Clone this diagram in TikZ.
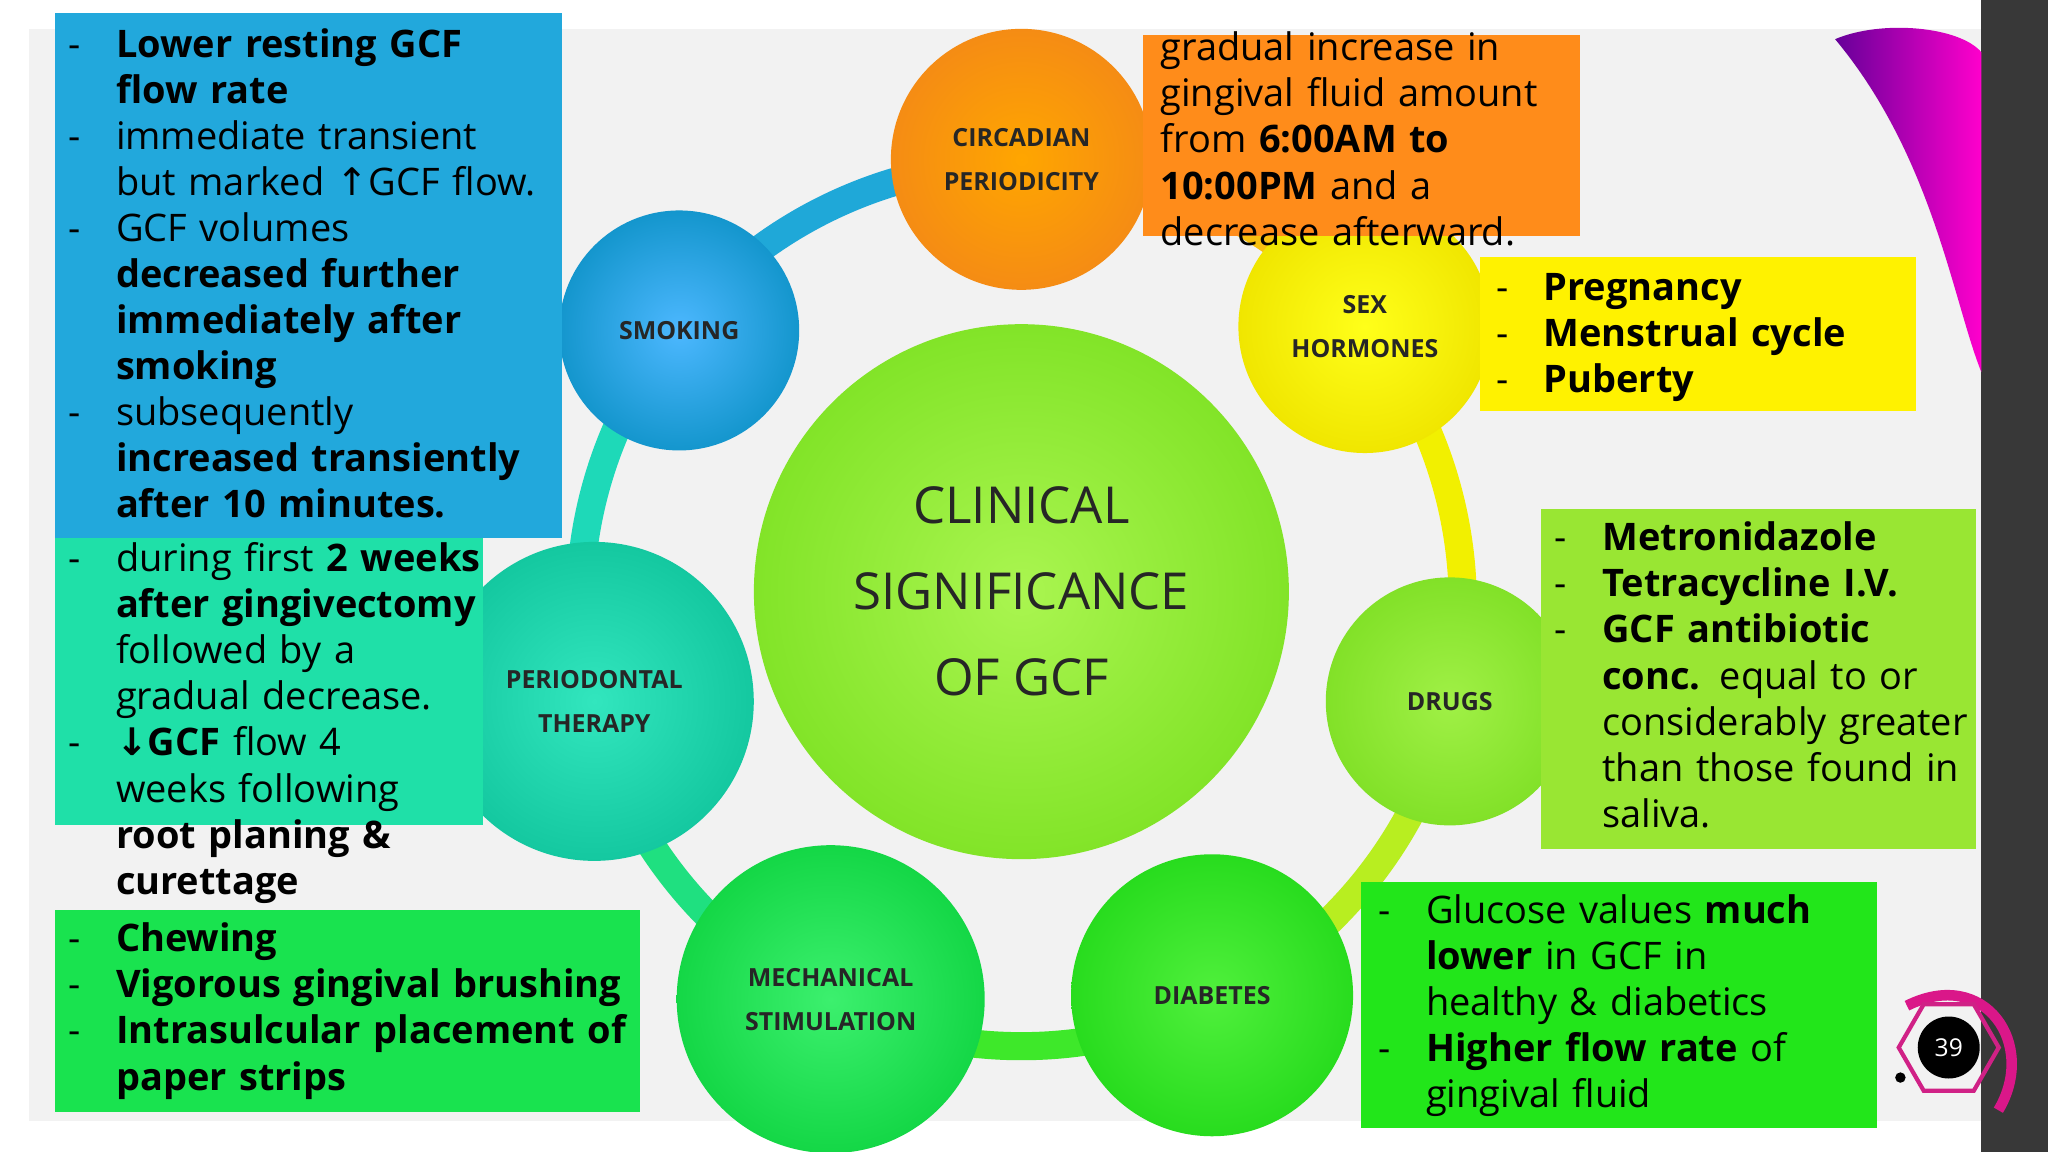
\documentclass[tikz,border=0pt]{standalone}
\usepackage{fontspec}
\setmainfont{Open Sans}
\newfontfamily\symf{DejaVu Sans}
\usetikzlibrary{shapes.geometric}
\newcommand\li{\par\hangindent=1.25em\hangafter=1\noindent\makebox[1.25em][l]{-}}
\newcommand\upar{{\symf ↑}}
\newcommand\dnar{{\symf ↓}}
\begin{document}
\begin{tikzpicture}[x=0.01306cm,y=-0.01306cm,
  box/.style={anchor=north west,inner sep=0pt,text width=#1,align=left,font=\fontsize{10.8}{13.1}\selectfont,execute at begin node={\hyphenpenalty=10000\exhyphenpenalty=10000}},
  ball/.style={circle,inner sep=0pt,minimum size=#1,font=\fontsize{7.1}{12.5}\selectfont\bfseries,align=center,text=black!85},
  ring/.style={line width=8pt}]
\useasboundingbox (0,0) rectangle (1568,882);
\fill[white] (0,0) rectangle (1568,882);
\fill[black!5] (22,22) rectangle (1517,858);
\fill[black!78] (1517,0) rectangle (1568,882);
% decoration top right
\shade[left color=violet!80!blue,right color=magenta!80!red] (1405,30) .. controls (1440,15) and (1500,20) .. (1517,40) -- (1517,285) .. controls (1495,230) and (1480,120) .. (1405,30) -- cycle;
% ring
\coordinate (c) at (782,463);
\draw[ring,color={rgb,255:red,248;green,192;blue,16}] (c) ++(-90:338) arc[start angle=90,end angle=39,radius=4.414cm];
\draw[ring,color={rgb,255:red,242;green,240;blue,0}] (c) ++(-39:338) arc[start angle=39,end angle=-13,radius=4.414cm];
\draw[ring,color={rgb,255:red,184;green,238;blue,32}] (c) ++(13:338) arc[start angle=-13,end angle=-64,radius=4.414cm];
\draw[ring,color={rgb,255:red,62;green,232;blue,42}] (c) ++(64:338) arc[start angle=-64,end angle=-116,radius=4.414cm];
\draw[ring,color={rgb,255:red,31;green,224;blue,128}] (c) ++(116:338) arc[start angle=-116,end angle=-167,radius=4.414cm];
\draw[ring,color={rgb,255:red,30;green,217;blue,184}] (c) ++(167:338) arc[start angle=-167,end angle=-219,radius=4.414cm];
\draw[ring,color={rgb,255:red,31;green,168;blue,216}] (c) ++(-141:338) arc[start angle=141,end angle=90,radius=4.414cm];
% circles
\node[ball=5.35cm,inner color={rgb,255:red,170;green,245;blue,80},outer color={rgb,255:red,130;green,228;blue,40},font=\fontsize{14.5}{24.5}\selectfont,text=black!85] (center) at (782,453) {CLINICAL\\SIGNIFICANCE\\OF GCF};
\node[ball=2.61cm,inner color=orange!70!yellow,outer color={rgb,255:red,245;green,140;blue,20}] (circ) at (782,122) {CIRCADIAN\\PERIODICITY};
\node[ball=2.40cm,inner color=cyan!60!blue!70,outer color={rgb,255:red,20;green,150;blue,205}] (smok) at (520,253) {SMOKING};
\node[ball=2.53cm,inner color=yellow!90!white,outer color={rgb,255:red,240;green,230;blue,0}] (sex) at (1045,250) {SEX\\HORMONES};
\node[ball=2.48cm,inner color={rgb,255:red,160;green,240;blue,70},outer color={rgb,255:red,130;green,225;blue,40}] (drug) at (1110,537) {DRUGS};
\node[ball=3.19cm,inner color={rgb,255:red,50;green,230;blue,190},outer color={rgb,255:red,20;green,200;blue,160}] (perio) at (455,537) {PERIODONTAL\\THERAPY};
\node[ball=3.08cm,inner color={rgb,255:red,60;green,240;blue,110},outer color={rgb,255:red,20;green,215;blue,70}] (mech) at (636,765) {MECHANICAL\\STIMULATION};
\node[ball=2.82cm,inner color={rgb,255:red,80;green,240;blue,60},outer color={rgb,255:red,40;green,220;blue,30}] (diab) at (928,762) {DIABETES};
% teal box
\fill[color={rgb,255:red,31;green,224;blue,168}] (42,400) rectangle (370,632);
\node[box=4.25cm] (tperio) at (52,402) {\li during first \textbf{2 weeks after gingivectomy} followed by a gradual decrease.\li \textbf{\dnar GCF} flow 4 weeks following \textbf{root planing \& curettage}\par};
% blue box
\fill[color={rgb,255:red,34;green,168;blue,220}] (42,10) rectangle (430,412);
\node[box=4.75cm] (tsmok) at (52,8) {\li\textbf{Lower resting GCF flow rate}\li immediate transient but marked \upar GCF flow.\li GCF volumes \textbf{decreased further immediately after smoking}\li subsequently \textbf{increased transiently after 10 minutes.}\par};
% mech box
\fill[color={rgb,255:red,25;green,227;blue,79}] (42,697) rectangle (490,851);
\node[box=5.6cm] (tmech) at (52,693) {\li\textbf{Chewing}\li\textbf{Vigorous gingival brushing}\li\textbf{Intrasulcular placement of paper strips}\par};
% orange
\fill[color={rgb,255:red,255;green,140;blue,26}] (875,27) rectangle (1210,181);
\node[box=4.2cm] (tcirc) at (888,24) {gradual increase in gingival fluid amount from \textbf{6:00AM to 10:00PM} and a decrease afterward.\par};
% yellow
\fill[yellow] (1133,197) rectangle (1467,315);
\node[box=4.18cm] (tsex) at (1145,194) {\li\textbf{Pregnancy}\li\textbf{Menstrual cycle}\li\textbf{Puberty}\par};
% drugs
\fill[color={rgb,255:red,153;green,230;blue,51}] (1180,390) rectangle (1513,650);
\node[box=4.25cm] (tdrug) at (1190,386) {\li\textbf{Metronidazole}\li\textbf{Tetracycline I.V.}\li\textbf{GCF antibiotic conc.} equal to or considerably greater than those found in saliva.\par};
% diabetes
\fill[color={rgb,255:red,34;green,230;blue,26}] (1042,675) rectangle (1437,864);
\node[box=4.5cm] (tdiab) at (1055,671) {\li Glucose values \textbf{much lower} in GCF in healthy \& diabetics\li\textbf{Higher flow rate} of gingival fluid\par};
% page number
\draw[magenta!80!violet,line width=3pt] (1460,770) .. controls (1520,740) and (1560,800) .. (1530,850);
\node[regular polygon,regular polygon sides=6,draw=magenta!70!violet,line width=1.2pt,minimum size=1.0cm,inner sep=0pt] (hex) at (1492,802) {};
\node[circle,fill=black,minimum size=0.62cm,inner sep=0pt,text=white,font=\fontsize{7}{8}\selectfont] (pg) at (1492,802) {39};
\fill[black] (1455,825) circle (4);
\end{tikzpicture}
\end{document}
